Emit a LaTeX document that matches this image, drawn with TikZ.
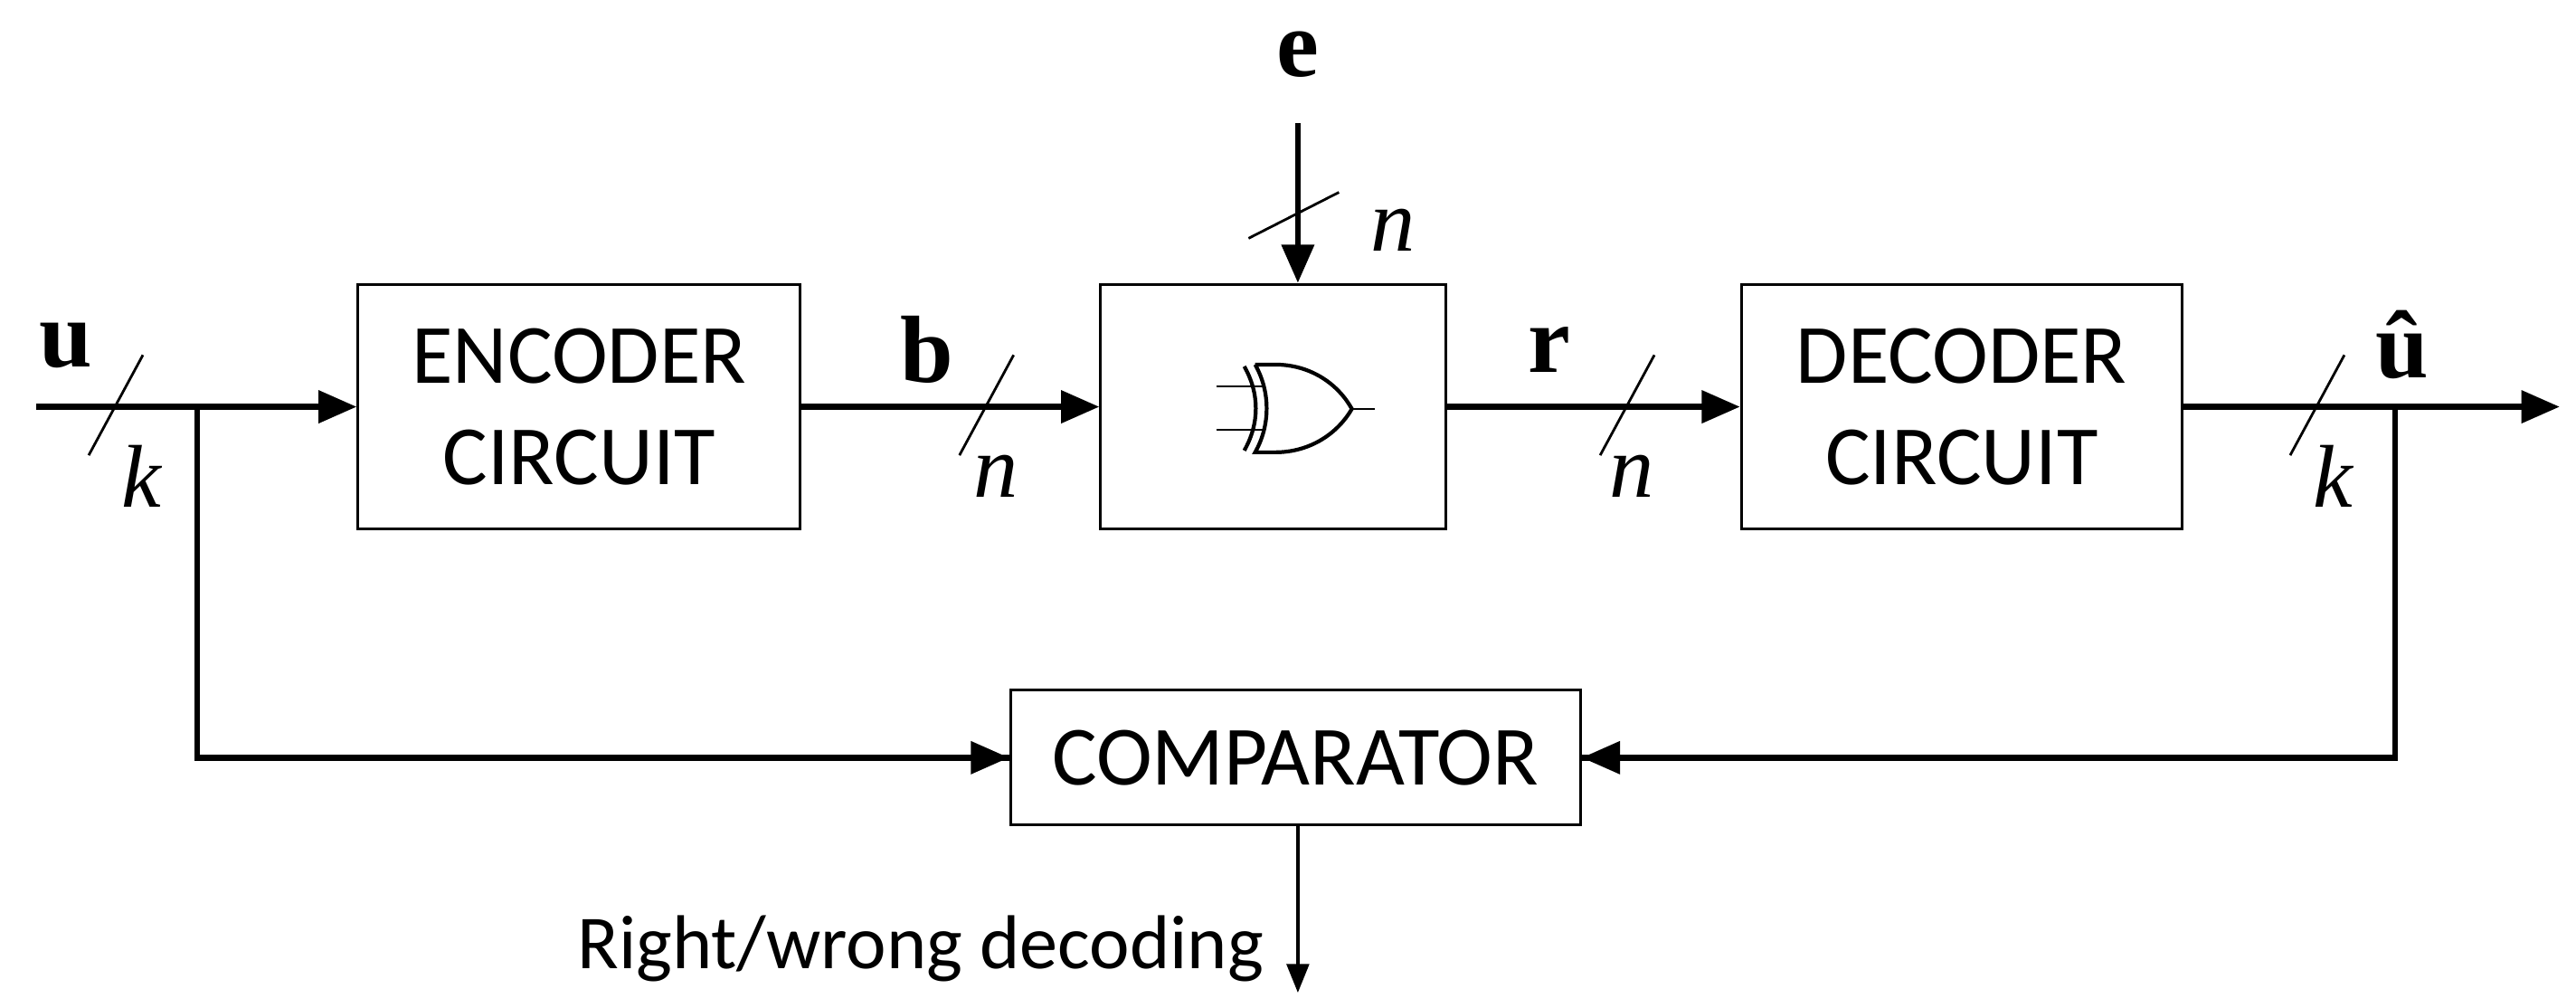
\documentclass[tikz,border=0pt]{standalone}
\usepackage{fontspec}
\setmainfont{Carlito}
\newfontfamily\tms{Liberation Serif}
\usetikzlibrary{arrows.meta}
\begin{document}
\begin{tikzpicture}[x=0.018163cm,y=-0.018163cm,
 blk/.style={draw,line width=0.9pt,inner sep=0pt,align=center,font=\fontsize{26.5}{32}\selectfont},
 bus/.style={line width=1.8pt},
 arr/.style={bus,-{Triangle[length=12pt,width=10pt]}},
 sl/.style={line width=0.8pt},
 lab/.style={font=\tms\bfseries\fontsize{30}{32}\selectfont},
 num/.style={font=\tms\itshape\fontsize{28}{30}\selectfont}]
\useasboundingbox (0,0) rectangle (1568,613.3);
\node[blk,minimum width=4.886cm,minimum height=2.706cm] (enc) at (352.5,247.5) {ENCODER\\CIRCUIT};
\node[blk,minimum width=3.814cm,minimum height=2.706cm] (xor) at (775,247.5) {};
\node[blk,minimum width=4.868cm,minimum height=2.706cm] (dec) at (1194,247.5) {DECODER\\CIRCUIT};
\node[blk,minimum width=6.30cm,minimum height=1.49cm] (cmp) at (788.5,461) {COMPARATOR};
\coordinate (in) at (22,247.5);
\coordinate (out) at (1558,247.5);
\coordinate (bl) at (120,247.5);
\coordinate (br) at (1458,247.5);
\coordinate (etop) at (790,75);
\coordinate (rw) at (790,604);
\draw[arr] (in) -- (enc.west);
\draw[bus] (bl) |- (cmp.west);
\draw[arr] (bl |- cmp.west) -- (cmp.west);
\draw[arr] (enc.east) -- (xor.west);
\draw[arr] (xor.east) -- (dec.west);
\draw[arr] (dec.east) -- (out);
\draw[bus] (br) |- (cmp.east);
\draw[arr] (br |- cmp.east) -- (cmp.east);
\draw[arr] (etop) -- (etop |- xor.north);
\draw[line width=1pt,-{Triangle[length=9pt,width=7pt]}] (cmp.south -| rw) -- (rw);
% slashes
\foreach \x in {70,600,990,1410}{\draw[sl] (\x-16,277) -- (\x+17,216);}
\draw[sl] (760,145) -- (815,117);
% labels
\node[lab] (lu) at (40,210) {u};
\node[num] (lk1) at (86,290) {k};
\node[lab] (lb) at (564,213) {b};
\node[num] (ln1) at (606,290) {n};
\node[lab] (le) at (790,33) {e};
\node[num] (ln2) at (848,140) {n};
\node[lab] (lr) at (943,213) {r};
\node[num] (ln3) at (993,290) {n};
\node[lab] (luh) at (1462,210) {\^u};
\node[num] (lk2) at (1420,290) {k};
\node[anchor=east,font=\fontsize{24}{28}\selectfont] (rwt) at (776,577) {Right/wrong decoding};
% XOR gate (original pixel coords)
\begin{scope}[x=0.01cm,y=-0.01cm]
\begin{scope}[line width=1.2pt]
\draw (1388,403) -- (1410,403) .. controls (1450,403) and (1480,425) .. (1495,452)
  .. controls (1480,478) and (1450,500) .. (1410,500) -- (1388,500)
  .. controls (1405,470) and (1405,433) .. (1388,403);
\draw (1376,405) .. controls (1393,435) and (1393,468) .. (1376,498);
\end{scope}
\draw[line width=0.6pt] (1345,427) -- (1398,427) (1345,475) -- (1398,475) (1495,452) -- (1520,452);
\end{scope}
\end{tikzpicture}
\end{document}
